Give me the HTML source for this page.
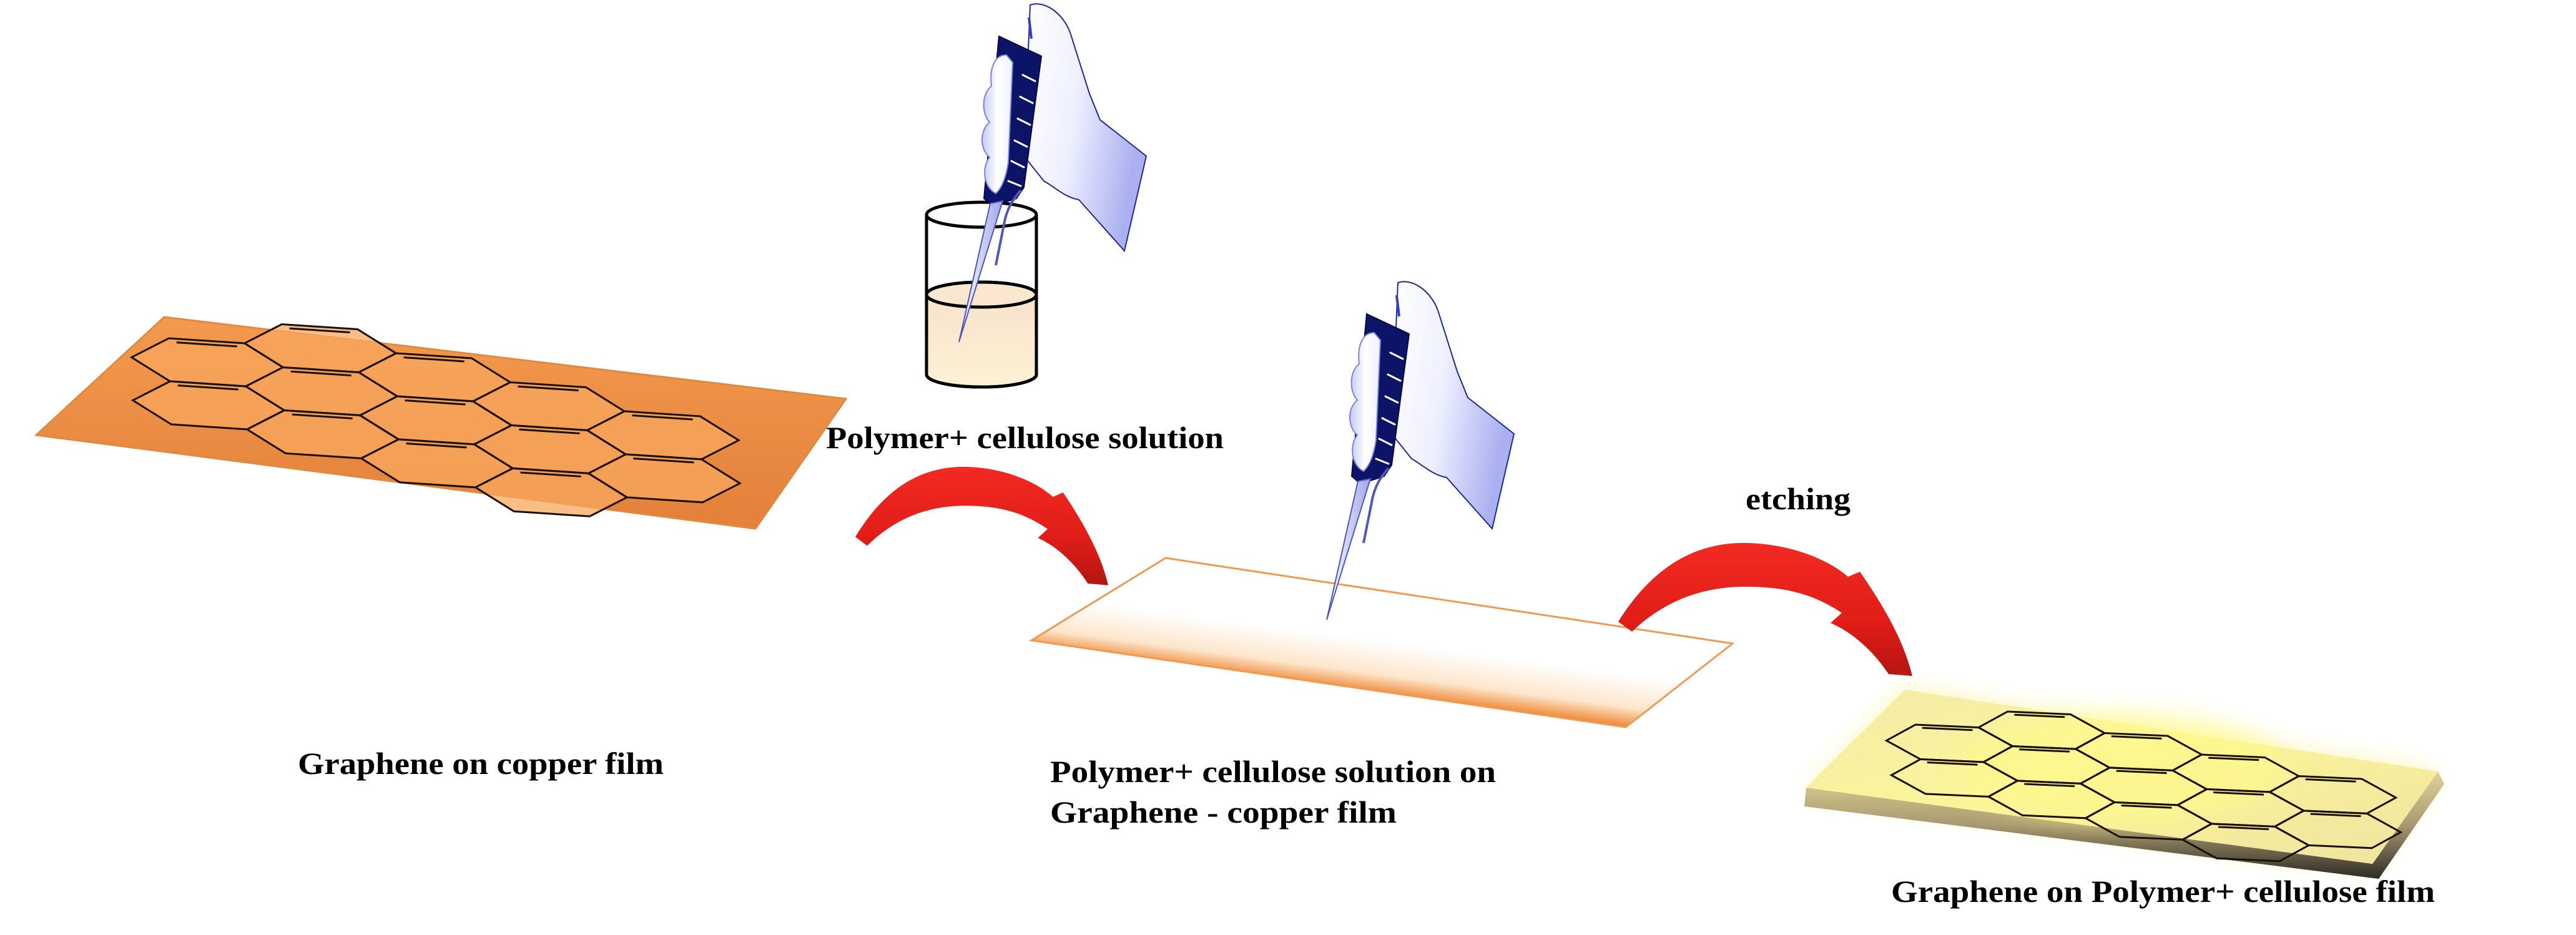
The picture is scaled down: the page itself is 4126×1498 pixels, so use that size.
<!DOCTYPE html>
<html><head><meta charset="utf-8"><style>
html,body{margin:0;padding:0;background:#fff}
svg{display:block}
text{font-family:"Liberation Serif",serif;font-weight:bold;fill:#000}
</style></head><body>
<svg width="4126" height="1498" viewBox="0 0 4126 1498" xmlns="http://www.w3.org/2000/svg">
<defs>
<g id="hx"><polygon points="1,0 .5,.866 -.5,.866 -1,0 -.5,-.866 .5,-.866" fill="none" stroke="#1a1008" stroke-width="3" vector-effect="non-scaling-stroke"/><line x1="-.4" y1="-.72" x2=".4" y2="-.72" stroke="#1a1008" stroke-width="3" vector-effect="non-scaling-stroke"/></g>
<polygon id="hf" points="1,0 .5,.866 -.5,.866 -1,0 -.5,-.866 .5,-.866"/>
<filter id="blur20" filterUnits="userSpaceOnUse" x="2700" y="1000" width="1426" height="498"><feGaussianBlur stdDeviation="18"/></filter>
<linearGradient id="cu" x1="0" y1="0" x2="0" y2="1"><stop offset="0" stop-color="#f39a4e"/><stop offset="1" stop-color="#e3803a"/></linearGradient>
<linearGradient id="wh" gradientUnits="userSpaceOnUse" x1="2150" y1="950" x2="2130" y2="1100"><stop offset="0.45" stop-color="#fff"/><stop offset="0.8" stop-color="#fde6cc"/><stop offset="1" stop-color="#f08c3c"/></linearGradient>
<linearGradient id="ye" x1="0" y1="0" x2="1" y2="1"><stop offset="0" stop-color="#f4eba8"/><stop offset="0.45" stop-color="#fbf59a"/><stop offset="1" stop-color="#efe3a0"/></linearGradient>
<linearGradient id="bev" x1="0" y1="0" x2="0" y2="1"><stop offset="0" stop-color="#e0d498"/><stop offset="0.5" stop-color="#a89a70"/><stop offset="1" stop-color="#2e2a24"/></linearGradient>
<linearGradient id="red" x1="0" y1="0" x2="0" y2="1"><stop offset="0" stop-color="#f22a22"/><stop offset="0.6" stop-color="#e01d18"/><stop offset="1" stop-color="#b51512"/></linearGradient>
<linearGradient id="glove" x1="0" y1="0" x2="1" y2="0.3"><stop offset="0" stop-color="#ffffff"/><stop offset="0.5" stop-color="#eef0ff"/><stop offset="1" stop-color="#aab0f0"/></linearGradient>
<linearGradient id="fing" x1="0" y1="0" x2="1" y2="0"><stop offset="0" stop-color="#c4c8f4"/><stop offset="0.5" stop-color="#ffffff"/><stop offset="1" stop-color="#eef0ff"/></linearGradient>
<linearGradient id="liq" x1="0" y1="0" x2="0" y2="1"><stop offset="0" stop-color="#f8e0cc"/><stop offset="1" stop-color="#fdf2d4"/></linearGradient>
<linearGradient id="tip" x1="0" y1="0" x2="1" y2="0"><stop offset="0" stop-color="#ffffff"/><stop offset="1" stop-color="#9fa6e8"/></linearGradient>
<g id="hand">
  <path d="M1650,8 C1672,0 1702,20 1714,52 L1745,150 L1762,192 L1836,250 L1801,402 L1728,320 C1705,316 1690,300 1672,290 L1640,250 Z" fill="url(#glove)" stroke="#1e2a90" stroke-width="2"/>
  <path d="M1600,58 L1668,90 L1640,300 L1628,318 L1590,330 L1576,318 Z" fill="#0c1468" stroke="#060a40" stroke-width="2"/>
  <g stroke="#ffffff" stroke-width="3" stroke-linecap="round">
    <line x1="1638" y1="120" x2="1658" y2="130"/><line x1="1634" y1="155" x2="1654" y2="165"/><line x1="1630" y1="190" x2="1650" y2="200"/><line x1="1625" y1="225" x2="1645" y2="235"/><line x1="1620" y1="258" x2="1640" y2="268"/><line x1="1615" y1="290" x2="1635" y2="298"/>
  </g>
  <path d="M1612,88 C1590,88 1585,115 1588,138 C1572,150 1572,182 1585,196 C1568,210 1570,240 1585,252 C1572,268 1575,300 1595,310 C1606,300 1612,280 1615,260 L1622,100 Z" fill="url(#fing)" stroke="#7c84d8" stroke-width="2"/>
  <polygon points="1586,326 1606,322 1536,548" fill="url(#tip)" stroke="#5058b8" stroke-width="2"/>
  <path d="M1635,305 C1622,320 1612,335 1608,360 L1595,425" fill="none" stroke="#5058b8" stroke-width="4"/>
  <line x1="1652" y1="62" x2="1648" y2="28" stroke="#3040c0" stroke-width="4"/>
</g>
<path id="arr" d="M2592,996 C2655,895 2730,868 2800,870 C2872,872 2930,898 2960,924 L2979,916 C3022,978 3050,1030 3063,1083 L3025,1080 C3000,1042 2965,1012 2932,998 L2950,982 C2900,948 2850,940 2795,940 C2722,940 2662,966 2614,1012 Z"/>
</defs>

<!-- copper sheet -->
<polygon points="263,508 1355,639 1210,847 58,697" fill="url(#cu)" stroke="#e08a40" stroke-width="3"/>
<g transform="matrix(121.3,8,1.15,39.8,513,558)" fill="#f8a85e" opacity="0.75">
<use href="#hf"/><use href="#hf" x="1.5" y="0.866"/><use href="#hf" x="3" y="1.732"/><use href="#hf" x="4.5" y="2.598"/><use href="#hf" x="-1.5" y="0.866"/><use href="#hf" x="0" y="1.732"/><use href="#hf" x="1.5" y="2.598"/><use href="#hf" x="3" y="3.464"/><use href="#hf" x="4.5" y="4.33"/><use href="#hf" x="-1.5" y="2.598"/><use href="#hf" x="0" y="3.464"/><use href="#hf" x="1.5" y="4.33"/><use href="#hf" x="3" y="5.196"/>
</g>
<g transform="matrix(121.3,8,1.15,39.8,513,558)">
<use href="#hx"/><use href="#hx" x="1.5" y="0.866"/><use href="#hx" x="3" y="1.732"/><use href="#hx" x="4.5" y="2.598"/><use href="#hx" x="-1.5" y="0.866"/><use href="#hx" x="0" y="1.732"/><use href="#hx" x="1.5" y="2.598"/><use href="#hx" x="3" y="3.464"/><use href="#hx" x="4.5" y="4.33"/><use href="#hx" x="-1.5" y="2.598"/><use href="#hx" x="0" y="3.464"/><use href="#hx" x="1.5" y="4.33"/><use href="#hx" x="3" y="5.196"/>
</g>

<!-- beaker -->
<path d="M1484,344 L1484,600 A88,20 0 0 0 1660,600 L1660,344" fill="none" stroke="#000" stroke-width="5"/>
<path d="M1484,472 A88,20 0 0 1 1660,472 L1660,600 A88,20 0 0 1 1484,600 Z" fill="url(#liq)" stroke="#000" stroke-width="5"/>
<ellipse cx="1572" cy="472" rx="88" ry="20" fill="#fbe6d0" stroke="#000" stroke-width="5"/>
<ellipse cx="1572" cy="344" rx="88" ry="20" fill="#fff" stroke="#000" stroke-width="5"/>

<use href="#hand"/>

<!-- white sheet -->
<polygon points="1867,894 2775,1031 2604,1165 1652,1026" fill="url(#wh)" stroke="#ef9a52" stroke-width="3"/>

<use href="#hand" transform="translate(589,445)"/>

<!-- arrows -->
<use href="#arr" fill="url(#red)" transform="translate(1370,748) scale(0.86,0.89) translate(-2592,-870)"/>
<use href="#arr" fill="url(#red)"/>

<!-- yellow sheet -->
<polygon points="3051,1105 3905,1236 3800,1389 2893,1268" fill="#fbf3a0" filter="url(#blur20)" opacity="0.8"/>
<polygon points="2893,1262 3800,1384 3905,1236 3915,1256 3810,1408 2890,1292" fill="url(#bev)"/>
<polygon points="3051,1105 3905,1236 3800,1384 2893,1262" fill="url(#ye)"/>
<ellipse cx="3400" cy="1230" rx="260" ry="90" fill="#fff98a" opacity="0.6" filter="url(#blur20)"/>
<g transform="matrix(101,4.5,4.6,32,3270,1170)">
<use href="#hx"/><use href="#hx" x="1.5" y="0.866"/><use href="#hx" x="3" y="1.732"/><use href="#hx" x="4.5" y="2.598"/><use href="#hx" x="-1.5" y="0.866"/><use href="#hx" x="0" y="1.732"/><use href="#hx" x="1.5" y="2.598"/><use href="#hx" x="3" y="3.464"/><use href="#hx" x="4.5" y="4.33"/><use href="#hx" x="-1.5" y="2.598"/><use href="#hx" x="0" y="3.464"/><use href="#hx" x="1.5" y="4.33"/><use href="#hx" x="3" y="5.196"/>
</g>

<!-- labels -->
<text x="1323" y="718" font-size="50" textLength="637" lengthAdjust="spacingAndGlyphs">Polymer+ cellulose solution</text>
<text x="2796" y="816" font-size="50" textLength="168" lengthAdjust="spacingAndGlyphs">etching</text>
<text x="477" y="1240" font-size="50" textLength="586" lengthAdjust="spacingAndGlyphs">Graphene on copper film</text>
<text x="1682" y="1253" font-size="50" textLength="714" lengthAdjust="spacingAndGlyphs">Polymer+ cellulose solution on</text>
<text x="1682" y="1318" font-size="50" textLength="555" lengthAdjust="spacingAndGlyphs">Graphene - copper film</text>
<text x="3029" y="1445" font-size="50" textLength="871" lengthAdjust="spacingAndGlyphs">Graphene on Polymer+ cellulose film</text>
</svg>
</body></html>
